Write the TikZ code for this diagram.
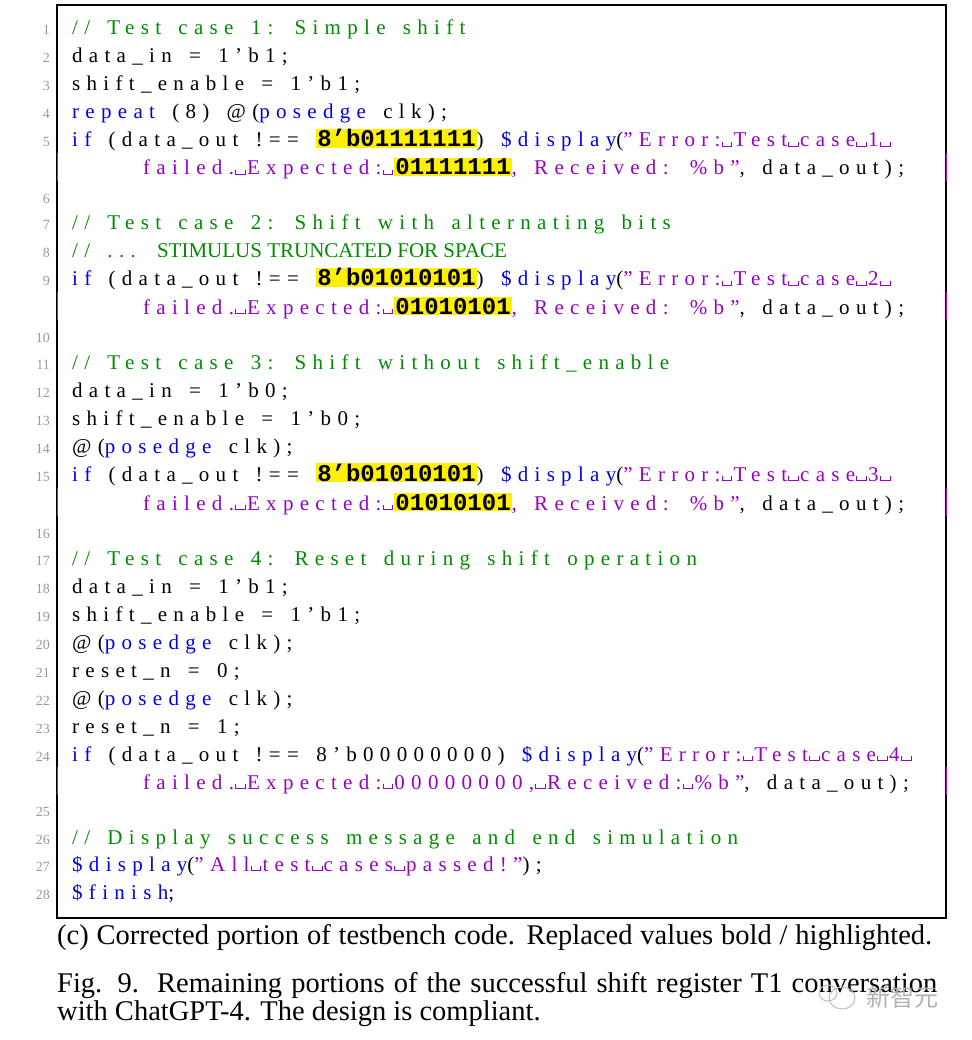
\documentclass[tikz,border=0pt]{standalone}
\usepackage{fontspec}
\setmainfont{Liberation Serif}
\newfontfamily\hlmono{Liberation Mono}
\newfontfamily\codefont{Liberation Serif}[LetterSpace=30,WordSpace=1.5]
\newfontfamily\cjk{Noto Sans CJK SC}
\usetikzlibrary{positioning}

\definecolor{cmgreen}{RGB}{0,140,0}
\definecolor{kwblue}{RGB}{0,0,235}
\definecolor{stpurple}{RGB}{150,0,200}
\definecolor{hlyellow}{RGB}{255,240,0}
\definecolor{marker}{RGB}{200,0,230}

\newcommand{\cm}[1]{\textcolor{cmgreen}{#1}}
\newcommand{\kw}[1]{\textcolor{kwblue}{#1}}
\newcommand{\st}[1]{\textcolor{stpurple}{#1}}
\newcommand{\vsp}{\kern.06em\rule{.04em}{.22em}\rule{.42em}{.04em}\rule{.04em}{.22em}\kern.06em}
\newcommand{\hl}[1]{{\setlength{\fboxsep}{1pt}\colorbox{hlyellow}{\hlmono\fontsize{24}{26}\selectfont\bfseries#1}}}

\tikzset{
  code/.style={anchor=base west, inner sep=0pt,
    font=\codefont\fontsize{21}{25}\selectfont},
  lnum/.style={anchor=base east, inner sep=0pt, text=gray!80,
    font=\fontsize{14}{16}\selectfont},
  capt/.style={anchor=base west, inner sep=0pt, font=\fontsize{28.5}{30}\selectfont}
}

\begin{document}
\begin{tikzpicture}[x=1pt,y=-1pt]

            \useasboundingbox (0,0) rectangle (971,1040);
            \draw[line width=1.2pt] (57,5) rectangle (946,918);

            % numbered code lines
            \foreach \n/\y/\txt in {
              1/35/{\cm{// Test case 1: Simple shift}},
              2/63/{data\_in = 1’b1;},
              3/91/{shift\_enable = 1’b1;},
              4/119/{\kw{repeat} (8) @(\kw{posedge} clk);},
              5/147/{\kw{if} (data\_out !== \hl{8’b01111111}) \kw{\$display}(\st{”Error:\vsp Test\vsp case\vsp 1\vsp}},
              6/204/{},
              7/230/{\cm{// Test case 2: Shift with alternating bits}},
              8/258/{\cm{// ... {\rmfamily STIMULUS TRUNCATED FOR SPACE}}},
              9/286/{\kw{if} (data\_out !== \hl{8’b01010101}) \kw{\$display}(\st{”Error:\vsp Test\vsp case\vsp 2\vsp}},
              10/342/{},
              11/369/{\cm{// Test case 3: Shift without shift\_enable}},
              12/397/{data\_in = 1’b0;},
              13/425/{shift\_enable = 1’b0;},
              14/453/{@(\kw{posedge} clk);},
              15/481/{\kw{if} (data\_out !== \hl{8’b01010101}) \kw{\$display}(\st{”Error:\vsp Test\vsp case\vsp 3\vsp}},
              16/538/{},
              17/565/{\cm{// Test case 4: Reset during shift operation}},
              18/593/{data\_in = 1’b1;},
              19/621/{shift\_enable = 1’b1;},
              20/649/{@(\kw{posedge} clk);},
              21/677/{reset\_n = 0;},
              22/705/{@(\kw{posedge} clk);},
              23/733/{reset\_n = 1;},
              24/761/{\kw{if} (data\_out !== 8’b00000000) \kw{\$display}(\st{”Error:\vsp Test\vsp case\vsp 4\vsp}},
              25/816/{},
              26/844/{\cm{// Display success message and end simulation}},
              27/871/{\kw{\$display}(\st{”All\vsp test\vsp cases\vsp passed!”});},
              28/899/{\kw{\$finish};}}{
              \node[lnum] (n\n) at (50,\y) {\n};
              \node[code] (l\n) at (72,\y) {\txt};
            }

            % wrapped continuations
            \node[code] (c5) at (143,175) {\st{failed.\vsp Expected:\vsp}\hl{01111111}\st{, Received: \%b”}, data\_out);};
            \node[code] (c9) at (143,314) {\st{failed.\vsp Expected:\vsp}\hl{01010101}\st{, Received: \%b”}, data\_out);};
            \node[code] (c15) at (143,510) {\st{failed.\vsp Expected:\vsp}\hl{01010101}\st{, Received: \%b”}, data\_out);};
            \node[code] (c24) at (143,789) {\st{failed.\vsp Expected:\vsp 00000000,\vsp Received:\vsp\%b”}, data\_out);};
            \foreach \y in {167,306,502,781}{
              \draw[marker, line width=1pt] (57,\y-14) -- (57,\y+14);
              \draw[marker, line width=1pt] (946,\y-14) -- (946,\y+14);
            }

            % captions
            \node[capt] (sub) at (57,944) {\makebox[875pt][s]{(c) Corrected portion of testbench code. Replaced values bold / highlighted.}};
            \node[capt] (fig1) at (57,992) {\makebox[880pt][s]{Fig. 9.\ \ Remaining portions of the successful shift register T1 conversation}};
            \node[capt] (fig2) at (57,1020) {with ChatGPT-4. The design is compliant.};

            % watermark
            \draw[gray!50, line width=1pt] (828,993) ellipse (9 and 8);
            \draw[gray!50, line width=1pt] (842,998) ellipse (13 and 11);
            \node[text=gray!60, font=\cjk\fontsize{24}{26}\selectfont, anchor=west, inner sep=0pt] (wm) at (866,997) {新智元};

        \end{tikzpicture}
\end{document}
